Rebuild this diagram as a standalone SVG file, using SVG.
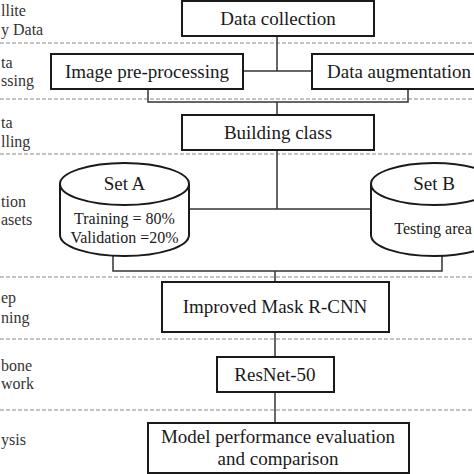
<svg xmlns="http://www.w3.org/2000/svg" width="474" height="474" viewBox="0 0 474 474">
<style>
.bg{fill:#fff}
.sep{stroke:#888;stroke-width:1.2;stroke-dasharray:4 2;fill:none}
.box{fill:#fff;stroke:#1a1a1a;stroke-width:2}
.con{stroke:#333;stroke-width:1.5;fill:none}
.t{font-family:"Liberation Serif","Times New Roman",serif;font-size:19px;fill:#1a1a1a;text-anchor:middle}
.s{font-family:"Liberation Serif","Times New Roman",serif;font-size:16px;fill:#1a1a1a;text-anchor:middle}
.lab{font-family:"Liberation Serif","Times New Roman",serif;font-size:16px;fill:#333;text-anchor:start}
</style>
<rect class="bg" x="0" y="0" width="474" height="474"/>
<g id="separators">
<line class="sep" x1="0" y1="43" x2="474" y2="43"/>
<line class="sep" x1="0" y1="99" x2="474" y2="99"/>
<line class="sep" x1="0" y1="154" x2="474" y2="154"/>
<line class="sep" x1="0" y1="277" x2="474" y2="277"/>
<line class="sep" x1="0" y1="339" x2="474" y2="339"/>
<line class="sep" x1="0" y1="410" x2="474" y2="410"/>
</g>
<g id="labels">
<text class="lab" x="1" y="16">llite</text>
<text class="lab" x="1" y="35">y Data</text>
<text class="lab" x="1" y="68">ta</text>
<text class="lab" x="1" y="86">ssing</text>
<text class="lab" x="1" y="128">ta</text>
<text class="lab" x="1" y="147">lling</text>
<text class="lab" x="1" y="207">tion</text>
<text class="lab" x="1" y="225">asets</text>
<text class="lab" x="1" y="303">ep</text>
<text class="lab" x="1" y="323">ning</text>
<text class="lab" x="1" y="371">bone</text>
<text class="lab" x="1" y="389">work</text>
<text class="lab" x="1" y="445">ysis</text>
</g>
<g id="connectors">
<polyline class="con" points="277,36 277,71"/>
<polyline class="con" points="243,71 312,71"/>
<polyline class="con" points="148,89 148,102 408,102 408,89"/>
<polyline class="con" points="277,102 277,115"/>
<polyline class="con" points="277,150 277,209"/>
<polyline class="con" points="189,209 371,209"/>
<polyline class="con" points="113,256 113,271 442,271 442,255"/>
<polyline class="con" points="275,271 275,282"/>
<polyline class="con" points="275,332 275,357"/>
<polyline class="con" points="275,392 275,423"/>
</g>
<g id="data-collection">
<rect class="box" x="182" y="1" width="192" height="35"/>
<text class="t" x="278" y="25">Data collection</text>
</g>
<g id="image-preprocessing">
<rect class="box" x="51" y="54" width="192" height="35"/>
<text class="t" x="147" y="78">Image pre-processing</text>
</g>
<g id="data-augmentation">
<rect class="box" x="312" y="54" width="180" height="35"/>
<text class="t" x="327" y="78" style="text-anchor:start">Data augmentation</text>
</g>
<g id="building-class">
<rect class="box" x="182" y="115" width="192" height="35"/>
<text class="t" x="278" y="139">Building class</text>
</g>
<g id="set-a">
<path class="box" d="M60,184 L60,235 A64.5,21 0 0 0 189,235 L189,184"/>
<ellipse class="box" cx="124.5" cy="184" rx="64.5" ry="21"/>
<text class="t" x="124.5" y="190">Set A</text>
<text class="s" x="124.5" y="224">Training = 80%</text>
<text class="s" x="124.5" y="243">Validation =20%</text>
</g>
<g id="set-b">
<path class="box" d="M371,184 L371,235 A63,21 0 0 0 497,235 L497,184"/>
<ellipse class="box" cx="434" cy="184" rx="63" ry="21"/>
<text class="t" x="434" y="190">Set B</text>
<text class="s" x="433" y="234">Testing area</text>
</g>
<g id="improved-mask-rcnn">
<rect class="box" x="162" y="282" width="227" height="50"/>
<text class="t" x="275" y="313">Improved Mask R-CNN</text>
</g>
<g id="resnet50">
<rect class="box" x="217" y="357" width="117" height="35"/>
<text class="t" x="275" y="381">ResNet-50</text>
</g>
<g id="model-evaluation">
<rect class="box" x="148" y="423" width="261" height="50"/>
<text class="t" x="278" y="443">Model performance evaluation</text>
<text class="t" x="278" y="465">and comparison</text>
</g>
</svg>
